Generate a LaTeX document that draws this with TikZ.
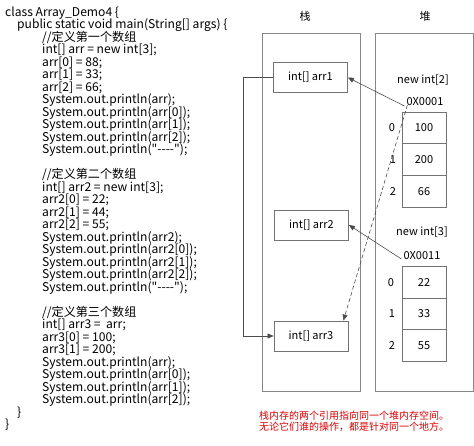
\documentclass[tikz,border=0pt]{standalone}
\usepackage{fontspec}
\setmainfont{Noto Sans CJK SC}
\newfontfamily\plainfont{Noto Sans CJK SC}
\newcommand\mycodesetup{\plainfont\fontsize{12.1}{12.5}\selectfont\lineskiplimit=-20pt\relax\lineskip=0pt\relax}
\newcommand\mynotesetup{\plainfont\fontsize{10}{11}\selectfont\lineskiplimit=-20pt\relax\lineskip=0pt\relax}
\usetikzlibrary{arrows.meta}
\begin{document}
\begin{tikzpicture}[x=1pt,y=-1pt,
  font=\plainfont\fontsize{11}{12.5}\selectfont,
  frame/.style={draw=gray!95, line width=1pt, inner sep=0pt, anchor=north west},
  var/.style={draw=gray!90!black, line width=0.8pt, minimum width=74pt, minimum height=30pt, inner sep=0pt},
  cell/.style={draw=gray!90!black, line width=0.8pt, minimum width=44pt, minimum height=31.6pt, inner sep=0pt},
  lbl/.style={inner sep=1pt},
  ptr/.style={draw=black!70, line width=0.6pt, -{Triangle[length=6pt,width=5pt]}},
  dptr/.style={ptr, dashed, dash pattern=on 4pt off 2.5pt},
  codestyle/.style={anchor=north west, align=left, inner sep=0pt, font=\mycodesetup},
  note/.style={text=red!85!black, font=\mynotesetup, align=left, inner sep=0pt, anchor=north west},
]
\useasboundingbox (0,0) rectangle (474,446);

% code
\node[codestyle] (code) at (5,6.5) {%
class Array\_Demo4 \{\\
\hspace*{12pt}public static void main(String[] args) \{\\
\hspace*{37pt}//定义第一个数组\\
\hspace*{37pt}int[] arr = new int[3];\\
\hspace*{37pt}arr[0] = 88;\\
\hspace*{37pt}arr[1] = 33;\\
\hspace*{37pt}arr[2] = 66;\\
\hspace*{37pt}System.out.println(arr);\\
\hspace*{37pt}System.out.println(arr[0]);\\
\hspace*{37pt}System.out.println(arr[1]);\\
\hspace*{37pt}System.out.println(arr[2]);\\
\hspace*{37pt}System.out.println("----");\\
\mbox{}\\
\hspace*{37pt}//定义第二个数组\\
\hspace*{37pt}int[] arr2 = new int[3];\\
\hspace*{37pt}arr2[0] = 22;\\
\hspace*{37pt}arr2[1] = 44;\\
\hspace*{37pt}arr2[2] = 55;\\
\hspace*{37pt}System.out.println(arr2);\\
\hspace*{37pt}System.out.println(arr2[0]);\\
\hspace*{37pt}System.out.println(arr2[1]);\\
\hspace*{37pt}System.out.println(arr2[2]);\\
\hspace*{37pt}System.out.println("----");\\
\mbox{}\\
\hspace*{37pt}//定义第三个数组\\
\hspace*{37pt}int[] arr3 =\ \ arr;\\
\hspace*{37pt}arr3[0] = 100;\\
\hspace*{37pt}arr3[1] = 200;\\
\hspace*{37pt}System.out.println(arr);\\
\hspace*{37pt}System.out.println(arr[0]);\\
\hspace*{37pt}System.out.println(arr[1]);\\
\hspace*{37pt}System.out.println(arr[2]);\\
\hspace*{12pt}\}\\
\}};

% frames
\node[frame, minimum width=98pt, minimum height=358pt] (stack) at (262,33) {};
\node[frame, minimum width=98pt, minimum height=358pt] (heap) at (375,33) {};
\node[lbl] (stacklbl) at (305,16) {栈};
\node[lbl] (heaplbl) at (425,16) {堆};

% stack variables
\node[var] (arr1) at (310.5,77.5) {int[] arr1};
\node[var] (arr2) at (311.5,225) {int[] arr2};
\node[var] (arr3) at (311,336) {int[] arr3};

% heap array 1
\node[lbl] (new1) at (423,80) {new int[2]};
\node[lbl] (addr1) at (425,102) {0X0001};
\node[cell] (c10) at (424,127.8) {100};
\node[cell] (c11) at (424,159.5) {200};
\node[cell] (c12) at (424,191.2) {66};
\node[lbl] (i10) at (392,127.8) {0};
\node[lbl] (i11) at (393,159.5) {1};
\node[lbl] (i12) at (393,191.2) {2};

% heap array 2
\node[lbl] (new2) at (422,232) {new int[3]};
\node[lbl] (addr2) at (422,256) {0X0011};
\node[cell] (c20) at (424,282.7) {22};
\node[cell] (c21) at (424,314) {33};
\node[cell] (c22) at (424,345.3) {55};
\node[lbl] (i20) at (391,282.7) {0};
\node[lbl] (i21) at (392,314) {1};
\node[lbl] (i22) at (392,345.3) {2};

% pointers
\draw[ptr] ([xshift=-1pt,yshift=-4pt]addr1.west) -- (arr1.east);
\draw[ptr] ([xshift=-1pt,yshift=-3pt]addr2.west) -- (arr2.east);
\draw[dptr] ([xshift=2pt,yshift=-3pt]addr1.west) -- ([xshift=-5pt]arr3.north east);
\draw[ptr] (arr1.west) -- ++(-30,0) |- (arr3.west);

% note
\node[note] (note) at (259,411) {栈内存的两个引用指向同一个堆内存空间。\\无论它们谁的操作，都是针对同一个地方。};
\end{tikzpicture}
\end{document}
